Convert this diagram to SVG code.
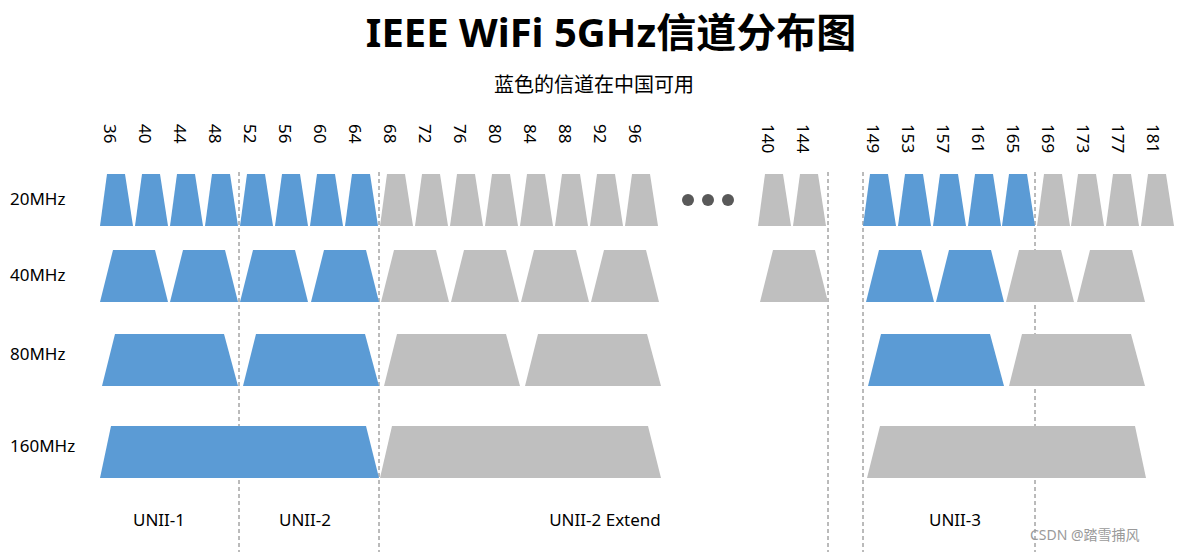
<svg xmlns="http://www.w3.org/2000/svg" width="1180" height="552" viewBox="0 0 1180 552">
<style>
text{font-family:"Noto Sans","Liberation Sans","Noto Sans CJK SC",sans-serif;fill:#000}
.b{fill:#5b9bd5}.g{fill:#bfbfbf}
.ch{font-size:17px}
.lb{font-size:17px}
.d{stroke:#777;stroke-width:1;stroke-dasharray:4,3}
</style>
<rect width="1180" height="552" fill="#fff"/>
<text x="611" y="47" font-size="40" font-weight="bold" text-anchor="middle" font-family="Noto Sans CJK SC,sans-serif">IEEE WiFi 5GHz信道分布图</text>
<text x="594" y="92" font-size="20" text-anchor="middle" font-family="Noto Sans CJK SC,sans-serif">蓝色的信道在中国可用</text>
<g id="connectors">
<line class="d" x1="239" y1="172" x2="239" y2="552"/>
<line class="d" x1="379" y1="172" x2="379" y2="552"/>
<line class="d" x1="828" y1="172" x2="828" y2="552"/>
<line class="d" x1="863" y1="172" x2="863" y2="552"/>
<line class="d" x1="1035" y1="172" x2="1035" y2="552"/>
</g>
<g id="labels" class="ch">
<text transform="translate(104,124) rotate(90)">36</text>
<text transform="translate(139,124) rotate(90)">40</text>
<text transform="translate(174,124) rotate(90)">44</text>
<text transform="translate(209,124) rotate(90)">48</text>
<text transform="translate(244,124) rotate(90)">52</text>
<text transform="translate(279,124) rotate(90)">56</text>
<text transform="translate(314,124) rotate(90)">60</text>
<text transform="translate(349,124) rotate(90)">64</text>
<text transform="translate(384,124) rotate(90)">68</text>
<text transform="translate(419,124) rotate(90)">72</text>
<text transform="translate(454,124) rotate(90)">76</text>
<text transform="translate(489,124) rotate(90)">80</text>
<text transform="translate(524,124) rotate(90)">84</text>
<text transform="translate(559,124) rotate(90)">88</text>
<text transform="translate(594,124) rotate(90)">92</text>
<text transform="translate(629,124) rotate(90)">96</text>
<text transform="translate(762,124) rotate(90)">140</text>
<text transform="translate(797,124) rotate(90)">144</text>
<text transform="translate(867,124) rotate(90)">149</text>
<text transform="translate(902,124) rotate(90)">153</text>
<text transform="translate(937,124) rotate(90)">157</text>
<text transform="translate(972,124) rotate(90)">161</text>
<text transform="translate(1007,124) rotate(90)">165</text>
<text transform="translate(1042,124) rotate(90)">169</text>
<text transform="translate(1077,124) rotate(90)">173</text>
<text transform="translate(1112,124) rotate(90)">177</text>
<text transform="translate(1147,124) rotate(90)">181</text>
</g>
<g id="rowlabels" class="lb">
<text x="10" y="205">20MHz</text>
<text x="10" y="281">40MHz</text>
<text x="10" y="360">80MHz</text>
<text x="10" y="452">160MHz</text>
<text x="159" y="526" text-anchor="middle">UNII-1</text>
<text x="305" y="526" text-anchor="middle">UNII-2</text>
<text x="605" y="526" text-anchor="middle">UNII-2 Extend</text>
<text x="955" y="526" text-anchor="middle">UNII-3</text>
</g>
<g id="ch20">
<path class="b" d="M100,226L107,174H125L133,226Z"/>
<path class="b" d="M135,226L142,174H160L168,226Z"/>
<path class="b" d="M170,226L177,174H195L203,226Z"/>
<path class="b" d="M205,226L212,174H230L238,226Z"/>
<path class="b" d="M240,226L247,174H265L273,226Z"/>
<path class="b" d="M275,226L282,174H300L308,226Z"/>
<path class="b" d="M310,226L317,174H335L343,226Z"/>
<path class="b" d="M345,226L352,174H370L378,226Z"/>
<path class="g" d="M380,226L387,174H405L413,226Z"/>
<path class="g" d="M415,226L422,174H440L448,226Z"/>
<path class="g" d="M450,226L457,174H475L483,226Z"/>
<path class="g" d="M485,226L492,174H510L518,226Z"/>
<path class="g" d="M520,226L527,174H545L553,226Z"/>
<path class="g" d="M555,226L562,174H580L588,226Z"/>
<path class="g" d="M590,226L597,174H615L623,226Z"/>
<path class="g" d="M625,226L632,174H650L658,226Z"/>
<path class="g" d="M758,226L765,174H783L791,226Z"/>
<path class="g" d="M793,226L800,174H818L826,226Z"/>
<path class="b" d="M863,226L870,174H888L896,226Z"/>
<path class="b" d="M898,226L905,174H923L931,226Z"/>
<path class="b" d="M933,226L940,174H958L966,226Z"/>
<path class="b" d="M968,226L975,174H993L1001,226Z"/>
<path class="b" d="M1002,226L1009,174H1027L1035,226Z"/>
<path class="g" d="M1037,226L1044,174H1062L1070,226Z"/>
<path class="g" d="M1071,226L1078,174H1096L1104,226Z"/>
<path class="g" d="M1106,226L1113,174H1131L1139,226Z"/>
<path class="g" d="M1141,226L1148,174H1166L1174,226Z"/>
</g>
<g id="dots" fill="#595959"><circle cx="688" cy="200" r="6"/><circle cx="708" cy="200" r="6"/><circle cx="728" cy="200" r="6"/></g>
<g id="ch40">
<path class="b" d="M100,302L113,250H155L168,302Z"/>
<path class="b" d="M170,302L183,250H225L238,302Z"/>
<path class="b" d="M240,302L253,250H295L308,302Z"/>
<path class="b" d="M311,302L324,250H366L379,302Z"/>
<path class="g" d="M381,302L394,250H436L449,302Z"/>
<path class="g" d="M451,302L464,250H506L519,302Z"/>
<path class="g" d="M521,302L534,250H576L589,302Z"/>
<path class="g" d="M591,302L604,250H646L659,302Z"/>
<path class="g" d="M760,302L773,250H815L828,302Z"/>
<path class="b" d="M866,302L879,250H921L934,302Z"/>
<path class="b" d="M936,302L949,250H991L1004,302Z"/>
<path class="g" d="M1006,302L1019,250H1061L1074,302Z"/>
<path class="g" d="M1077,302L1090,250H1132L1145,302Z"/>
</g>
<g id="ch80">
<path class="b" d="M102,386L115,334H224L238,386Z"/>
<path class="b" d="M243,386L256,334H365L379,386Z"/>
<path class="g" d="M384,386L397,334H506L520,386Z"/>
<path class="g" d="M525,386L538,334H647L661,386Z"/>
<path class="b" d="M868,386L881,334H990L1004,386Z"/>
<path class="g" d="M1009,386L1022,334H1131L1145,386Z"/>
</g>
<g id="ch160">
<path class="b" d="M100,478L111,426H366L379,478Z"/>
<path class="g" d="M380,478L392,426H648L661,478Z"/>
<path class="g" d="M867,478L880,426H1135L1146,478Z"/>
</g>
<text x="1030" y="540" font-size="14" fill="#999" style="fill:#9a9a9a" font-family="Noto Sans CJK SC,sans-serif">CSDN @踏雪捕风</text>
</svg>
